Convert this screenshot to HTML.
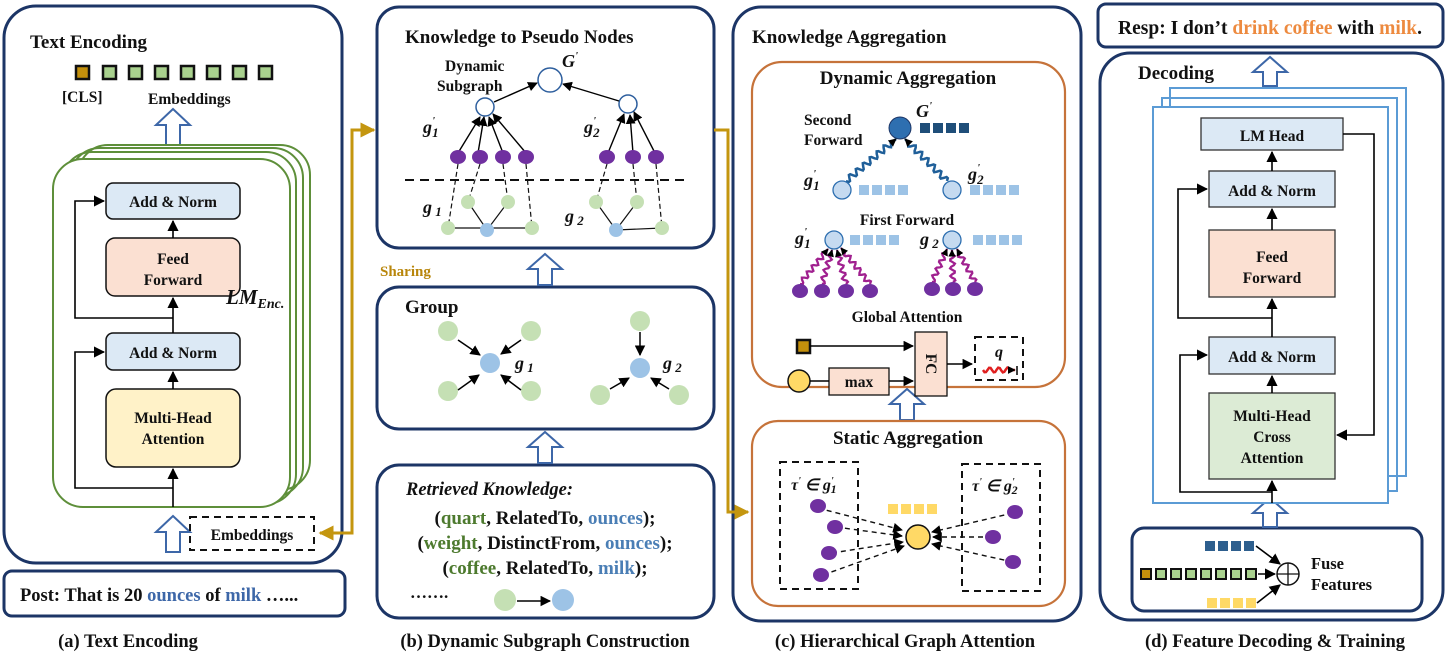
<!DOCTYPE html>
<html><head><meta charset="utf-8"><style>
html,body{margin:0;padding:0;background:#fff}
svg{display:block}
text{font-family:"Liberation Serif",serif;font-weight:bold;fill:#111}
.t{font-size:19px}
.s{font-size:15.5px}
.it{font-style:italic}
</style></head><body>
<svg id="sv" width="1449" height="656" viewBox="0 0 1449 656" xmlns="http://www.w3.org/2000/svg">
<defs>
<marker id="ah" viewBox="0 0 10 10" refX="9" refY="5" markerWidth="7" markerHeight="7" orient="auto"><path d="M0,0L10,5L0,10z" fill="#000"/></marker>
<marker id="ag" viewBox="0 0 10 10" refX="9" refY="5" markerWidth="5" markerHeight="5" orient="auto"><path d="M0,0L10,5L0,10z" fill="#c4960f"/></marker>
<marker id="ar" viewBox="0 0 10 10" refX="9" refY="5" markerWidth="3.2" markerHeight="3.2" orient="auto"><path d="M0,0L10,5L0,10z" fill="#000"/></marker>
</defs>
<g fill="none" stroke="#1c3566" stroke-width="3">
<rect x="4" y="6" width="338" height="557" rx="32"/>
<rect x="4" y="571" width="341" height="45" rx="8"/>
<rect x="377" y="7" width="337" height="241" rx="22"/>
<rect x="377" y="287" width="337" height="142" rx="22"/>
<rect x="377" y="465" width="337" height="153" rx="22"/>
<rect x="733" y="7" width="348" height="614" rx="28"/>
<rect x="1098" y="4" width="345" height="43" rx="8"/>
<rect x="1100" y="53" width="343" height="567" rx="30"/>
<rect x="1132" y="528" width="290" height="83" rx="12"/>
</g>
<g fill="#fff" stroke="#3d67a8" stroke-width="2">
<path d="M166,145v-20h-10l17,-16l17,16h-10v20z"/>
<path d="M166,552v-20h-10l17,-16l17,16h-10v20z"/>
<path d="M538,285v-16h-10l17,-15l17,15h-10v16z"/>
<path d="M538,463v-16h-10l17,-15l17,15h-10v16z"/>
<path d="M900,420v-16h-10l17,-15l17,15h-10v16z"/>
<path d="M1263,86v-14h-10l17,-15l17,15h-10v14z"/>
<path d="M1263,527v-14h-10l17,-15l17,15h-10v14z"/>
</g>
<!-- Panel a -->
<text class="t" x="30" y="48">Text Encoding</text>
<g stroke="#111" stroke-width="2.5">
<rect x="76" y="66" width="13" height="13" fill="#c4900c"/>
<rect x="103" y="66" width="13" height="13" fill="#a9d18e"/>
<rect x="129" y="66" width="13" height="13" fill="#a9d18e"/>
<rect x="155" y="66" width="13" height="13" fill="#a9d18e"/>
<rect x="181" y="66" width="13" height="13" fill="#a9d18e"/>
<rect x="207" y="66" width="13" height="13" fill="#a9d18e"/>
<rect x="233" y="66" width="13" height="13" fill="#a9d18e"/>
<rect x="259" y="66" width="13" height="13" fill="#a9d18e"/>
</g>
<text class="s" x="62" y="102">[CLS]</text>
<text class="s" x="148" y="104">Embeddings</text>
<g fill="none" stroke="#5e8f3a" stroke-width="2">
<rect x="78" y="145" width="232" height="345" rx="30"/>
<rect x="70" y="148" width="233" height="349" rx="30"/>
<rect x="62" y="152" width="234" height="352" rx="30"/>
<rect x="53" y="159" width="237" height="348" rx="30" fill="#fff"/>
</g>
<g stroke="#111" stroke-width="1.5">
<rect x="106" y="183" width="134" height="36" rx="7" fill="#dce9f5"/>
<rect x="106" y="238" width="134" height="58" rx="9" fill="#fbe0d2"/>
<rect x="106" y="333" width="134" height="37" rx="7" fill="#dce9f5"/>
<rect x="106" y="389" width="134" height="78" rx="10" fill="#fff2c8"/>
</g>
<text class="s" x="173" y="207" text-anchor="middle">Add &amp; Norm</text>
<text class="s" x="173" y="264" text-anchor="middle">Feed</text>
<text class="s" x="173" y="285" text-anchor="middle">Forward</text>
<text class="s" x="173" y="358" text-anchor="middle">Add &amp; Norm</text>
<text class="s" x="173" y="423" text-anchor="middle">Multi-Head</text>
<text class="s" x="173" y="444" text-anchor="middle">Attention</text>
<text x="226" y="304" class="it" font-size="21">LM<tspan font-size="14" dy="4">Enc.</tspan></text>
<g stroke="#000" stroke-width="1.6" fill="none">
<path d="M173,507V469" marker-end="url(#ah)"/>
<path d="M173,389V372" marker-end="url(#ah)"/>
<path d="M173,333V298" marker-end="url(#ah)"/>
<path d="M173,238V221" marker-end="url(#ah)"/>
<path d="M173,488H75V352H104" marker-end="url(#ah)"/>
<path d="M173,318H75V201H104" marker-end="url(#ah)"/>
</g>
<rect x="190" y="517" width="124" height="33" fill="none" stroke="#111" stroke-width="2" stroke-dasharray="7,5"/>
<text class="s" x="252" y="540" text-anchor="middle">Embeddings</text>
<text x="20" y="601" font-size="18.5">Post: That is 20 <tspan style="fill:#3d67a8">ounces</tspan> of <tspan style="fill:#3d67a8">milk</tspan> …...</text>
<g fill="none" stroke="#c4960f" stroke-width="3">
<path d="M342,533H352V130H374" marker-end="url(#ag)"/>
<path d="M352,533H320" marker-end="url(#ag)"/>
<path d="M714,130H728V512H748" marker-end="url(#ag)"/>
</g>
<text x="380" y="276" font-size="15" style="fill:#b8860b">Sharing</text>
<!-- Panel b top -->
<text class="t" x="405" y="43">Knowledge to Pseudo Nodes</text>
<text class="s" x="445" y="71">Dynamic</text>
<text class="s" x="437" y="91">Subgraph</text>
<text x="562" y="67" class="it" font-size="18">G<tspan font-size="11" dy="-8">'</tspan></text>
<g fill="#fff" stroke="#2e5f9e" stroke-width="1.5">
<circle cx="550" cy="80" r="12"/><circle cx="485" cy="107" r="9"/><circle cx="628" cy="104" r="9"/>
</g>
<g stroke="#000" stroke-width="1.4" marker-end="url(#ah)">
<line x1="494" y1="102" x2="537" y2="83"/><line x1="619" y1="101" x2="563" y2="84"/>
<line x1="458" y1="153" x2="480" y2="117"/><line x1="478" y1="153" x2="484" y2="117"/><line x1="503" y1="153" x2="489" y2="117"/><line x1="526" y1="153" x2="493" y2="114"/>
<line x1="608" y1="153" x2="624" y2="114"/><line x1="633" y1="153" x2="630" y2="115"/><line x1="655" y1="153" x2="634" y2="112"/>
</g>
<g fill="#7030a0"><ellipse cx="458" cy="157" rx="8" ry="7"/><ellipse cx="480" cy="157" rx="8" ry="7"/><ellipse cx="503" cy="157" rx="8" ry="7"/><ellipse cx="526" cy="157" rx="8" ry="7"/><ellipse cx="607" cy="157" rx="8" ry="7"/><ellipse cx="633" cy="157" rx="8" ry="7"/><ellipse cx="656" cy="157" rx="8" ry="7"/></g>
<line x1="405" y1="180" x2="688" y2="180" stroke="#111" stroke-width="2" stroke-dasharray="9,6"/>
<g stroke="#111" stroke-width="1.2" stroke-dasharray="5,3">
<line x1="458" y1="164" x2="448" y2="228"/><line x1="480" y1="164" x2="468" y2="202"/><line x1="503" y1="164" x2="508" y2="202"/><line x1="526" y1="164" x2="532" y2="228"/>
<line x1="607" y1="164" x2="596" y2="202"/><line x1="633" y1="164" x2="637" y2="202"/><line x1="656" y1="164" x2="662" y2="228"/>
</g>
<g stroke="#111" stroke-width="1.2">
<line x1="448" y1="228" x2="532" y2="228"/><line x1="468" y1="202" x2="487" y2="230"/><line x1="508" y1="202" x2="487" y2="230"/>
<line x1="596" y1="202" x2="616" y2="230"/><line x1="637" y1="202" x2="616" y2="230"/><line x1="616" y1="230" x2="662" y2="228"/>
</g>
<g fill="#c5e0b4"><circle cx="468" cy="202" r="7"/><circle cx="508" cy="202" r="7"/><circle cx="448" cy="228" r="7"/><circle cx="532" cy="228" r="7"/><circle cx="596" cy="202" r="7"/><circle cx="637" cy="202" r="7"/><circle cx="662" cy="228" r="7"/></g>
<g fill="#9dc3e6"><circle cx="487" cy="230" r="7"/><circle cx="616" cy="230" r="7"/></g>
<text class="it" x="423" y="133" font-size="18">g<tspan font-size="11" dy="-9">'</tspan><tspan font-size="13" dx="-3" dy="13">1</tspan></text>
<text class="it" x="584" y="133" font-size="18">g<tspan font-size="11" dy="-9">'</tspan><tspan font-size="13" dx="-3" dy="13">2</tspan></text>
<text class="it" x="423" y="213" font-size="18">g<tspan font-size="13" dy="3"> 1</tspan></text>
<text class="it" x="565" y="222" font-size="18">g<tspan font-size="13" dy="3"> 2</tspan></text>
<!-- Group -->
<text class="t" x="405" y="313">Group</text>
<g fill="#c5e0b4"><circle cx="448" cy="331" r="10"/><circle cx="531" cy="331" r="10"/><circle cx="448" cy="391" r="10"/><circle cx="531" cy="391" r="10"/><circle cx="640" cy="321" r="10"/><circle cx="600" cy="395" r="10"/><circle cx="679" cy="395" r="10"/></g>
<g fill="#9dc3e6"><circle cx="490" cy="363" r="10"/><circle cx="640" cy="368" r="10"/></g>
<g stroke="#000" stroke-width="1.5" marker-end="url(#ah)">
<line x1="458" y1="340" x2="480" y2="355"/><line x1="521" y1="340" x2="501" y2="354"/><line x1="458" y1="390" x2="479" y2="375"/><line x1="521" y1="390" x2="501" y2="375"/>
<line x1="640" y1="332" x2="640" y2="355"/><line x1="610" y1="389" x2="629" y2="378"/><line x1="669" y1="389" x2="651" y2="378"/>
</g>
<text class="it" x="515" y="369" font-size="18">g<tspan font-size="13" dy="3"> 1</tspan></text>
<text class="it" x="663" y="369" font-size="18">g<tspan font-size="13" dy="3"> 2</tspan></text>
<!-- Retrieved -->
<text class="it" x="406" y="495" font-size="18.5">Retrieved Knowledge:</text>
<text x="545" y="524" font-size="19" text-anchor="middle">(<tspan style="fill:#4d7a2e">quart</tspan>, RelatedTo, <tspan style="fill:#4a7eb5">ounces</tspan>);</text>
<text x="545" y="549" font-size="19" text-anchor="middle">(<tspan style="fill:#4d7a2e">weight</tspan>, DistinctFrom, <tspan style="fill:#4a7eb5">ounces</tspan>);</text>
<text x="545" y="574" font-size="19" text-anchor="middle">(<tspan style="fill:#4d7a2e">coffee</tspan>, RelatedTo, <tspan style="fill:#4a7eb5">milk</tspan>);</text>
<text x="410" y="598" font-size="17">…….</text>
<circle cx="505" cy="600" r="11" fill="#c5e0b4"/><circle cx="563" cy="600" r="11" fill="#9dc3e6"/>
<line x1="517" y1="601" x2="550" y2="601" stroke="#000" stroke-width="1.5" marker-end="url(#ah)"/>
<!-- Panel c -->
<text class="t" x="752" y="43">Knowledge Aggregation</text>
<rect x="752" y="62" width="313" height="325" rx="30" fill="none" stroke="#c6733a" stroke-width="2.2"/>
<rect x="752" y="421" width="313" height="185" rx="26" fill="none" stroke="#c6733a" stroke-width="2.2"/>
<text class="t" x="908" y="84" text-anchor="middle">Dynamic Aggregation</text>
<text x="916" y="117" class="it" font-size="18">G<tspan font-size="11" dy="-8">'</tspan></text>
<text class="s" x="804" y="125">Second</text>
<text class="s" x="804" y="145">Forward</text>
<circle cx="900" cy="128" r="11" fill="#2e6fb0" stroke="#1c3566" stroke-width="1"/>
<g id="wv"></g>
<g fill="#1f4e79"><rect x="920" y="123" width="10" height="10"/><rect x="933" y="123" width="10" height="10"/><rect x="946" y="123" width="10" height="10"/><rect x="959" y="123" width="10" height="10"/></g>
<g fill="#c5daf0" stroke="#2e6fb0" stroke-width="1.3"><circle cx="842" cy="190" r="9"/><circle cx="952" cy="190" r="9"/><circle cx="834" cy="240" r="9"/><circle cx="952" cy="240" r="9"/></g>
<g fill="#9dc3e6">
<rect x="859" y="185" width="10" height="10"/><rect x="872" y="185" width="10" height="10"/><rect x="885" y="185" width="10" height="10"/><rect x="898" y="185" width="10" height="10"/>
<rect x="970" y="185" width="10" height="10"/><rect x="983" y="185" width="10" height="10"/><rect x="996" y="185" width="10" height="10"/><rect x="1009" y="185" width="10" height="10"/>
<rect x="850" y="235" width="10" height="10"/><rect x="863" y="235" width="10" height="10"/><rect x="876" y="235" width="10" height="10"/><rect x="889" y="235" width="10" height="10"/>
<rect x="973" y="235" width="10" height="10"/><rect x="986" y="235" width="10" height="10"/><rect x="999" y="235" width="10" height="10"/><rect x="1012" y="235" width="10" height="10"/>
</g>
<text class="it" x="804" y="186" font-size="18">g<tspan font-size="11" dy="-9">'</tspan><tspan font-size="13" dx="-3" dy="13">1</tspan></text>
<text class="it" x="968" y="180" font-size="18">g<tspan font-size="11" dy="-9">'</tspan><tspan font-size="13" dx="-3" dy="13">2</tspan></text>
<text class="s" x="907" y="225" text-anchor="middle">First Forward</text>
<text class="it" x="795" y="244" font-size="18">g<tspan font-size="11" dy="-9">'</tspan><tspan font-size="13" dx="-3" dy="13">1</tspan></text>
<text class="it" x="920" y="245" font-size="18">g<tspan font-size="13" dy="3"> 2</tspan></text>
<g fill="#7030a0"><ellipse cx="800" cy="291" rx="8" ry="7"/><ellipse cx="822" cy="291" rx="8" ry="7"/><ellipse cx="846" cy="291" rx="8" ry="7"/><ellipse cx="870" cy="291" rx="8" ry="7"/><ellipse cx="932" cy="289" rx="8" ry="7"/><ellipse cx="953" cy="289" rx="8" ry="7"/><ellipse cx="975" cy="289" rx="8" ry="7"/></g>
<text class="s" x="907" y="322" text-anchor="middle">Global Attention</text>
<rect x="797" y="340" width="13" height="13" fill="#c4900c" stroke="#111" stroke-width="2.5"/>
<circle cx="799" cy="381" r="11" fill="#ffd966" stroke="#111" stroke-width="1.5"/>
<rect x="829" y="368" width="60" height="27" fill="#fbe0d2" stroke="#111" stroke-width="1.3"/>
<text class="s" x="859" y="387" text-anchor="middle">max</text>
<rect x="915" y="332" width="32" height="64" fill="#fbe0d2" stroke="#111" stroke-width="1.3"/>
<text class="s" x="931" y="364" text-anchor="middle" transform="rotate(90 931 364)" dy="5">FC</text>
<rect x="975" y="337" width="48" height="43" fill="none" stroke="#111" stroke-width="2" stroke-dasharray="7,5"/>
<text class="it" x="995" y="357" font-size="16">q</text>
<g stroke="#000" stroke-width="1.5" fill="none">
<line x1="810" y1="346" x2="913" y2="346" marker-end="url(#ah)"/>
<line x1="810" y1="381" x2="829" y2="381"/>
<line x1="889" y1="381" x2="913" y2="381" marker-end="url(#ah)"/>
<line x1="947" y1="364" x2="972" y2="364" marker-end="url(#ah)"/>
<line x1="1017" y1="366" x2="1017" y2="375"/>
</g>
<text class="t" x="908" y="444" text-anchor="middle">Static Aggregation</text>
<rect x="780" y="462" width="78" height="127" fill="none" stroke="#111" stroke-width="2" stroke-dasharray="7,5"/>
<rect x="962" y="464" width="78" height="127" fill="none" stroke="#111" stroke-width="2" stroke-dasharray="7,5"/>
<text class="it" x="791" y="490" font-size="16">τ<tspan font-size="10" dy="-6">'</tspan><tspan dy="6"> ∈ g</tspan><tspan font-size="10" dy="-6">'</tspan><tspan font-size="12" dx="-3" dy="9">1</tspan></text>
<text class="it" x="972" y="491" font-size="16">τ<tspan font-size="10" dy="-6">'</tspan><tspan dy="6"> ∈ g</tspan><tspan font-size="10" dy="-6">'</tspan><tspan font-size="12" dx="-3" dy="9">2</tspan></text>
<g fill="#ffd966"><rect x="888" y="504" width="10" height="10"/><rect x="901" y="504" width="10" height="10"/><rect x="914" y="504" width="10" height="10"/><rect x="927" y="504" width="10" height="10"/></g>
<g stroke="#111" stroke-width="1.4" stroke-dasharray="5,4" marker-end="url(#ah)">
<line x1="818" y1="508" x2="902" y2="530"/><line x1="836" y1="527" x2="902" y2="536"/><line x1="832" y1="553" x2="903" y2="542"/><line x1="823" y1="575" x2="904" y2="546"/>
<line x1="1013" y1="513" x2="932" y2="532"/><line x1="992" y1="537" x2="933" y2="537"/><line x1="1013" y1="562" x2="932" y2="544"/>
</g>
<circle cx="918" cy="537" r="12" fill="#ffd966" stroke="#111" stroke-width="1.5"/>
<g fill="#7030a0"><ellipse cx="818" cy="506" rx="8" ry="7"/><ellipse cx="835" cy="527" rx="8" ry="7"/><ellipse cx="829" cy="553" rx="8" ry="7"/><ellipse cx="821" cy="575" rx="8" ry="7"/><ellipse cx="1015" cy="512" rx="8" ry="7"/><ellipse cx="993" cy="537" rx="8" ry="7"/><ellipse cx="1013" cy="562" rx="8" ry="7"/></g>
<!-- Panel d -->
<text x="1270" y="34" font-size="19.5" text-anchor="middle">Resp: I don’t <tspan style="fill:#ed8a3f">drink coffee</tspan> with <tspan style="fill:#ed8a3f">milk</tspan>.</text>
<text class="t" x="1138" y="79">Decoding</text>
<g fill="none" stroke="#5b9bd5" stroke-width="2">
<rect x="1170" y="88" width="236" height="388"/>
<rect x="1162" y="98" width="235" height="393"/>
<rect x="1153" y="107" width="235" height="396" fill="#fff"/>
</g>
<g stroke="#333" stroke-width="1.3">
<rect x="1201" y="118" width="142" height="32" fill="#dce9f5"/>
<rect x="1209" y="171" width="126" height="36" fill="#dce9f5"/>
<rect x="1209" y="230" width="126" height="67" fill="#fbe0d2"/>
<rect x="1209" y="337" width="126" height="37" fill="#dce9f5"/>
<rect x="1209" y="393" width="126" height="86" fill="#dcebd5"/>
</g>
<text class="s" x="1272" y="141" text-anchor="middle">LM Head</text>
<text class="s" x="1272" y="196" text-anchor="middle">Add &amp; Norm</text>
<text class="s" x="1272" y="262" text-anchor="middle">Feed</text>
<text class="s" x="1272" y="283" text-anchor="middle">Forward</text>
<text class="s" x="1272" y="362" text-anchor="middle">Add &amp; Norm</text>
<text class="s" x="1272" y="421" text-anchor="middle">Multi-Head</text>
<text class="s" x="1272" y="442" text-anchor="middle">Cross</text>
<text class="s" x="1272" y="463" text-anchor="middle">Attention</text>
<g stroke="#000" stroke-width="1.6" fill="none">
<path d="M1272,503V481" marker-end="url(#ah)"/>
<path d="M1272,393V376" marker-end="url(#ah)"/>
<path d="M1272,337V299" marker-end="url(#ah)"/>
<path d="M1272,230V209" marker-end="url(#ah)"/>
<path d="M1272,171V152" marker-end="url(#ah)"/>
<path d="M1272,492H1180V355H1207" marker-end="url(#ah)"/>
<path d="M1272,318H1178V189H1207" marker-end="url(#ah)"/>
<path d="M1343,134H1374V435H1337" marker-end="url(#ah)"/>
</g>
<g fill="#2e5f8e"><rect x="1205" y="541" width="10" height="10"/><rect x="1218" y="541" width="10" height="10"/><rect x="1231" y="541" width="10" height="10"/><rect x="1244" y="541" width="10" height="10"/></g>
<g stroke="#111" stroke-width="2">
<rect x="1141" y="569" width="10" height="10" fill="#c4900c"/>
<rect x="1156" y="569" width="10" height="10" fill="#a9d18e"/><rect x="1171" y="569" width="10" height="10" fill="#a9d18e"/><rect x="1186" y="569" width="10" height="10" fill="#a9d18e"/><rect x="1201" y="569" width="10" height="10" fill="#a9d18e"/><rect x="1216" y="569" width="10" height="10" fill="#a9d18e"/><rect x="1231" y="569" width="10" height="10" fill="#a9d18e"/><rect x="1246" y="569" width="10" height="10" fill="#a9d18e"/>
</g>
<g fill="#ffd966"><rect x="1207" y="598" width="10" height="10"/><rect x="1220" y="598" width="10" height="10"/><rect x="1233" y="598" width="10" height="10"/><rect x="1246" y="598" width="10" height="10"/></g>
<circle cx="1288" cy="574" r="11" fill="#fff" stroke="#111" stroke-width="1.5"/>
<path d="M1277,574h22M1288,563v22" stroke="#111" stroke-width="1.3"/>
<g stroke="#000" stroke-width="1.6" marker-end="url(#ah)">
<line x1="1256" y1="546" x2="1280" y2="564"/><line x1="1258" y1="574" x2="1275" y2="574"/><line x1="1257" y1="603" x2="1280" y2="585"/>
</g>
<text x="1311" y="569" font-size="16.5">Fuse</text>
<text x="1311" y="590" font-size="16.5">Features</text>
<!-- captions -->
<text x="128" y="647" font-size="18.5" text-anchor="middle">(a) Text Encoding</text>
<text x="545" y="647" font-size="18.5" text-anchor="middle">(b) Dynamic Subgraph Construction</text>
<text x="905" y="647" font-size="18.5" text-anchor="middle">(c) Hierarchical Graph Attention</text>
<text x="1275" y="647" font-size="18.5" text-anchor="middle">(d) Feature Decoding &amp; Training</text>
</svg>
<script>
(function(){
var g=document.getElementById('wv');
function wave(x1,y1,x2,y2,col,w,amp,per){
var dx=x2-x1,dy=y2-y1,L=Math.sqrt(dx*dx+dy*dy),ux=dx/L,uy=dy/L,nx=-uy,ny=ux;
var d='M'+x1+','+y1,n=Math.floor(L/1.5);
for(var i=1;i<=n;i++){var t=i*L/n;var s=Math.sin(t/per*2*Math.PI)*amp*(t<L-6?1:0);
d+='L'+(x1+ux*t+nx*s).toFixed(1)+','+(y1+uy*t+ny*s).toFixed(1);}
var p=document.createElementNS('http://www.w3.org/2000/svg','path');
p.setAttribute('d',d);p.setAttribute('fill','none');p.setAttribute('stroke',col);p.setAttribute('stroke-width',w);
p.setAttribute('marker-end','url(#ar)');g.appendChild(p);}
wave(846,181,896,139,'#1f5f99',2.5,3,9);
wave(947,181,905,139,'#1f5f99',2.5,3,9);
var P=[[800,284],[822,284],[846,284],[870,284]];
var T=[[828,249],[832,250],[837,250],[841,248]];
for(var i=0;i<4;i++)wave(P[i][0],P[i][1],T[i][0],T[i][1],'#a0208f',2.3,2.5,8);
var P2=[[932,282],[953,282],[975,282]],T2=[[947,249],[952,250],[957,249]];
for(var i=0;i<3;i++)wave(P2[i][0],P2[i][1],T2[i][0],T2[i][1],'#a0208f',2.3,2.5,8);
wave(983,370,1015,370,'#e02020',2.5,2.5,9);
})();
</script>
</body></html>
